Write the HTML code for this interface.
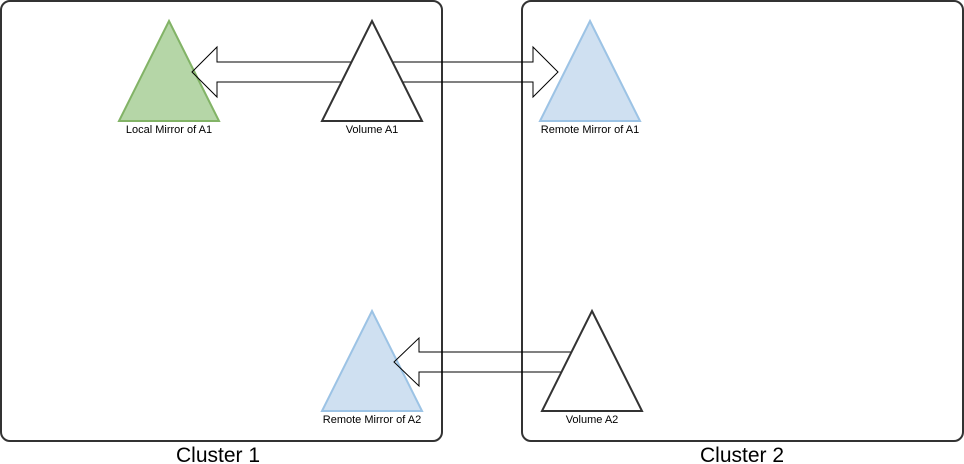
<!DOCTYPE html>
<html><head><style>body{margin:0;background:#fff}svg{display:block}</style></head><body>
<svg width="964" height="464" viewBox="0 0 964 464" xmlns="http://www.w3.org/2000/svg" font-family="Liberation Sans, sans-serif">
<rect x="1" y="1" width="441" height="440" rx="9" fill="none" stroke="#333" stroke-width="2"/>
<rect x="522" y="1" width="441" height="440" rx="9" fill="none" stroke="#333" stroke-width="2"/>
<polygon points="169,21 219,121 119,121" fill="#b5d6a7" stroke="#82b366" stroke-width="2"/>
<polygon points="590,21 640,121 540,121" fill="#cfe0f1" stroke="#9cc3e5" stroke-width="2"/>
<polygon points="372,311 422,411 322,411" fill="#cfe0f1" stroke="#9cc3e5" stroke-width="2"/>
<polygon points="192,72 217,47 217,62 360,62 360,82 217,82 217,97" fill="none" stroke="#000" stroke-width="1"/>
<polygon points="380,62 533,62 533,47 558,72 533,97 533,82 380,82" fill="none" stroke="#000" stroke-width="1"/>
<polygon points="394,362 419,338 419,352 585,352 585,372 419,372 419,386" fill="none" stroke="#000" stroke-width="1"/>
<polygon points="372,21 422,121 322,121" fill="#fff" stroke="#333" stroke-width="2"/>
<polygon points="592,311 642,411 542,411" fill="#fff" stroke="#333" stroke-width="2"/>
<g font-size="11" text-anchor="middle" fill="#000">
<text x="169" y="133">Local Mirror of A1</text>
<text x="372" y="133">Volume A1</text>
<text x="590" y="133">Remote Mirror of A1</text>
<text x="372" y="423">Remote Mirror of A2</text>
<text x="592" y="423">Volume A2</text>
</g>
<text x="218" y="462" font-size="21" text-anchor="middle">Cluster 1</text>
<text x="742" y="462" font-size="21" text-anchor="middle">Cluster 2</text>
</svg>
</body></html>
